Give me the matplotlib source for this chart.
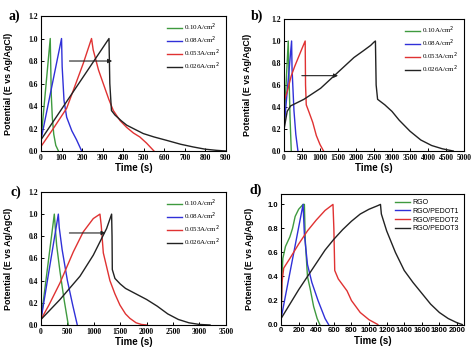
import matplotlib
matplotlib.use("Agg")
import matplotlib.pyplot as plt

# ---- panel a ----
a_labels = ["0.10A/cm$^2$", "0.08A/cm$^2$", "0.053A/cm$^2$", "0.026A/cm$^2$"]
a_t = [
    [0, 45, 47, 50, 55, 62, 72, 85],
    [0, 100, 103, 112, 125, 150, 173, 198],
    [0, 60, 125, 206, 246, 254, 280, 303, 330, 352, 385, 417, 450, 481, 514, 550],
    [0, 331, 335, 343, 360, 390, 417, 460, 498, 550, 611, 680, 741, 800, 854, 900],
]
a_v = [
    [0.1, 1.0, 0.8, 0.5, 0.3, 0.15, 0.05, 0.0],
    [0.1, 1.0, 0.75, 0.45, 0.3, 0.18, 0.1, 0.0],
    [0.04, 0.2, 0.38, 0.78, 1.0, 0.9, 0.72, 0.6, 0.46, 0.36, 0.27, 0.21, 0.16, 0.125, 0.07, 0.0],
    [0.1, 1.0, 0.6, 0.36, 0.32, 0.27, 0.23, 0.19, 0.155, 0.125, 0.095, 0.06, 0.036, 0.016, 0.006, 0.0],
]

# ---- panel b ----
b_t = [
    [0, 120, 140, 170, 204],
    [0, 213, 225, 278, 330, 389],
    [0, 100, 200, 300, 400, 500, 590, 600, 620, 700, 800, 900, 1000, 1100],
    [0, 90, 185, 555, 1018, 1481, 1944, 2200, 2407, 2500, 2540, 2560, 2600, 2800,
     3000, 3200, 3500, 3800, 4100, 4400, 4700],
]
b_v = [
    [0.22, 1.0, 0.7, 0.3, 0.0],
    [0.2, 1.0, 0.75, 0.37, 0.15, 0.0],
    [0.45, 0.55, 0.68, 0.77, 0.85, 0.93, 1.0, 0.6, 0.42, 0.35, 0.26, 0.14, 0.06, 0.0],
    [0.19, 0.36, 0.41, 0.47, 0.57, 0.71, 0.85, 0.91, 0.96, 0.99, 1.0, 0.6, 0.47, 0.42,
     0.36, 0.28, 0.18, 0.1, 0.05, 0.02, 0.0],
]

# ---- panel c ----
c_t = [
    [0, 252, 270, 296, 360, 440, 517],
    [0, 328, 345, 400, 500, 600, 687],
    [0, 150, 360, 612, 800, 990, 1116, 1140, 1180, 1305, 1400, 1494, 1600, 1683, 1800, 1900, 2000],
    [0, 360, 738, 990, 1242, 1337, 1345, 1350, 1400, 1500, 1600, 1800, 2000, 2200, 2400,
     2600, 2800, 3000, 3200],
]
c_v = [
    [0.05, 1.0, 0.88, 0.72, 0.48, 0.22, 0.0],
    [0.05, 1.0, 0.88, 0.68, 0.4, 0.18, 0.0],
    [0.05, 0.18, 0.38, 0.66, 0.84, 0.96, 1.0, 0.9, 0.65, 0.4, 0.28, 0.18, 0.1, 0.06, 0.02, 0.005, 0.0],
    [0.05, 0.23, 0.44, 0.63, 0.87, 1.0, 0.8, 0.5, 0.42, 0.37, 0.33, 0.28, 0.23, 0.17, 0.1,
     0.05, 0.02, 0.005, 0.0],
]

# ---- panel d ----
d_labels = ["RGO", "RGO/PEDOT1", "RGO/PEDOT2", "RGO/PEDOT3"]
d_t = [
    [0, 10, 20, 50, 100, 130, 160, 200, 250, 265, 275, 300, 330, 370, 410, 440],
    [0, 250, 265, 300, 350, 420, 500, 540],
    [0, 10, 30, 100, 200, 300, 400, 500, 590, 600, 610, 650, 700, 750, 800, 900, 1000, 1100],
    [0, 100, 200, 300, 400, 500, 600, 700, 800, 900, 1000, 1100, 1130, 1140, 1200, 1300,
     1400, 1500, 1600, 1700, 1800, 1900, 2000, 2060],
]
d_v = [
    [0.05, 0.4, 0.55, 0.65, 0.73, 0.8, 0.9, 0.96, 1.0, 1.0, 0.7, 0.4, 0.3, 0.15, 0.05, 0.0],
    [0.05, 1.0, 0.75, 0.5, 0.35, 0.2, 0.05, 0.0],
    [0.05, 0.35, 0.47, 0.55, 0.67, 0.78, 0.87, 0.95, 1.0, 0.8, 0.45, 0.38, 0.33, 0.28, 0.2,
     0.1, 0.04, 0.0],
    [0.05, 0.17, 0.29, 0.4, 0.51, 0.62, 0.71, 0.79, 0.86, 0.92, 0.96, 0.99, 1.0, 0.92, 0.78,
     0.6, 0.45, 0.35, 0.26, 0.17, 0.1, 0.05, 0.015, 0.0],
]

colors = ["#3f9a3f", "#3030d8", "#e03232", "#222222"]
serif = ["Liberation Serif", "DejaVu Serif"]
sans = ["Liberation Sans", "DejaVu Sans"]

fig = plt.figure(figsize=(4.74, 3.52), dpi=100)


def draw(rect, ts, vs, labels, xlim, xticks, ylim, yticks, tickfont, arrow=None, ylab_x=-0.15):
    ax = fig.add_axes(rect)
    for t, v, lab, c in zip(ts, vs, labels, colors):
        ax.plot(t, v, color=c, lw=1.0, label=lab)
    ax.set_xlim(*xlim)
    ax.set_ylim(*ylim)
    ax.set_xticks(xticks)
    ax.set_yticks(yticks)
    ax.set_xticklabels([str(x) for x in xticks], family=tickfont, fontsize=5.5, fontweight="bold")
    ax.set_yticklabels([f"{y:.1f}" for y in yticks], family=tickfont, fontsize=5.5, fontweight="bold")
    ax.tick_params(direction="in", length=2.5, width=0.7, pad=2)
    for s in ax.spines.values():
        s.set_linewidth(0.8)
    ax.set_xlabel("Time (s)", family=sans, fontsize=7, fontweight="bold", labelpad=1)
    ax.set_ylabel("Potential (E vs Ag/AgCl)", family=sans, fontsize=6.4, fontweight="bold")
    ax.yaxis.set_label_coords(ylab_x, 0.5)
    ax.legend(loc="upper right", frameon=False, handlelength=2.2, labelspacing=0.25,
              handletextpad=0.3, borderaxespad=0.4,
              prop={"family": tickfont, "size": 5})
    if arrow is not None:
        ax.annotate("", xy=(arrow[1], arrow[2]), xytext=(arrow[0], arrow[2]),
                    arrowprops=dict(arrowstyle="-|>", color="#222222", lw=0.8,
                                    mutation_scale=6))
    return ax


draw([0.0865, 0.571, 0.390, 0.3835], a_t, a_v, a_labels, (0, 900),
     list(range(0, 901, 100)), (0, 1.2), [0, 0.2, 0.4, 0.6, 0.8, 1.0, 1.2], serif,
     arrow=(125, 360, 0.8))
draw([0.599, 0.571, 0.380, 0.375], b_t, b_v, a_labels, (0, 5000),
     list(range(0, 5001, 500)), (0, 1.2), [0, 0.2, 0.4, 0.6, 0.8, 1.0, 1.2], serif,
     arrow=(420, 1580, 0.685), ylab_x=-0.18)
draw([0.0865, 0.0767, 0.390, 0.378], c_t, c_v, a_labels, (0, 3500),
     list(range(0, 3501, 500)), (0, 1.2), [0, 0.2, 0.4, 0.6, 0.8, 1.0, 1.2], serif,
     arrow=(485, 1275, 0.83))
draw([0.593, 0.078, 0.386, 0.372], d_t, d_v, d_labels, (0, 2080),
     list(range(0, 2001, 200)), (0, 1.09), [0, 0.2, 0.4, 0.6, 0.8, 1.0], sans, ylab_x=-0.15)

for x, y, s in [(0.017, 0.955, "a)"), (0.53, 0.955, "b)"), (0.022, 0.455, "c)"), (0.527, 0.46, "d)")]:
    fig.text(x, y, s, family=serif, fontsize=10, fontweight="bold", va="center")

fig.savefig("out.png", dpi=100)
